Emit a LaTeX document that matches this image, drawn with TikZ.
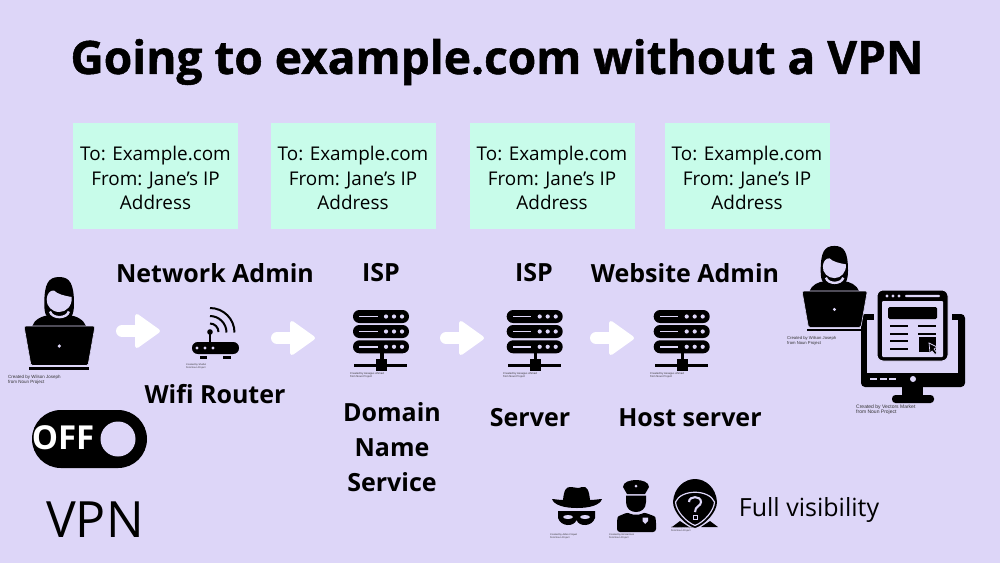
\documentclass[tikz,border=0pt]{standalone}
\usepackage{fontspec}
\setmainfont{Open Sans}
\setsansfont{Liberation Sans}
\newfontfamily\heavyfont[BoldFeatures={FakeBold=1.1}]{Open Sans}
\usepackage{tikz}
\usetikzlibrary{calc}
\definecolor{backlilac}{RGB}{221,214,248}
\definecolor{boxmint}{RGB}{200,252,234}
\newcommand{\WhiteArrow}[2]{
\begin{scope}[shift={(#1,#2)}]
\draw[white,line width=12pt,line cap=round] (6,0)--(24,0);
\draw[white,fill=white,line width=4pt,line join=round] (21,-15)--(42,0)--(21,15)--cycle;
\end{scope}
}
\newcommand{\ServerRow}[1]{
\fill[black,rounded corners=6.4pt] (0,#1) rectangle (56,#1+13);
\fill[backlilac] (6,#1+5.8) rectangle (24.5,#1+7.2);
\fill[backlilac] (33,#1+6.5) circle (2.1pt);
\fill[backlilac] (41,#1+6.5) circle (2.1pt);
\fill[backlilac] (49,#1+6.5) circle (2.1pt);
}
\newcommand{\ServerIcon}[2]{
\begin{scope}[shift={(#1,#2)}]
\ServerRow{0}
\ServerRow{15}
\ServerRow{30.3}
\fill[black] (27,43) rectangle (30.5,50);
\fill[black] (23,49) rectangle (34.3,61);
\fill[black] (1.3,53.7) rectangle (54.3,57);
\end{scope}
}
\newcommand{\PersonLaptop}[3]{
\begin{scope}[shift={(#1,#2)},scale=#3]
\fill[black] (20.3,-22) .. controls (20.3,-42) and (24,-49) .. (35.3,-49) .. controls (46,-49) and (50,-42) .. (50,-22) .. controls (50,-16) and (49,-12) .. (47.7,-10) -- (22.7,-10) .. controls (21,-12) and (20.3,-16) .. (20.3,-22) -- cycle;
\fill[black] (8.3,0) .. controls (10,-6) and (18,-10.7) .. (26,-10.7) -- (44.3,-10.7) .. controls (52,-10.7) and (60,-6) .. (62,0) -- cycle;
\fill[backlilac] (22.7,-27) .. controls (23,-32) and (26,-36) .. (30,-35.5) .. controls (33,-32) and (41,-30) .. (47.7,-29) .. controls (48.5,-20) and (42,-14) .. (35.3,-14) .. controls (28,-14) and (22,-20) .. (22.7,-27) -- cycle;
\draw[backlilac,line width=2.4pt] (26,-14.5) .. controls (28,-7) and (43,-7) .. (44.8,-14.5);
\filldraw[fill=black,draw=backlilac,line width=0.6pt,rounded corners=1.5pt] (0,0)--(71,0)--(64,39.5)--(7,39.5)--cycle;
\fill[backlilac] (35.3,20) circle (1.8pt);
\fill[black] (5.3,41.2) rectangle (65,43.6);
\end{scope}
}
\begin{document}
\begin{tikzpicture}[
x=1pt,y=-1pt,
MailBox/.style={fill=boxmint,draw=none,minimum width=165pt,minimum height=106pt,inner sep=0pt},
MailText/.style={inner sep=0pt,yshift=-2pt,align=center,font=\fontsize{18.9}{24.6}\selectfont},
RoleLabel/.style={font=\fontsize{25}{35}\selectfont\bfseries,align=center,inner sep=0pt},
Credit/.style 2 args={font=\sffamily\fontsize{#1}{#2}\selectfont,align=left,anchor=west,inner sep=0pt,black!80}
]
\useasboundingbox (0,0) rectangle (1000,563);
\fill[backlilac] (0,0) rectangle (1000,563);

\node[font=\fontsize{46}{50}\selectfont\heavyfont\bfseries,inner sep=0pt] (title) at (497,62) {Going to example.com without a VPN};

\node[MailBox] (mailA) at (155.5,176) {};
\node[MailBox] (mailB) at (353,176) {};
\node[MailBox] (mailC) at (552,176) {};
\node[MailBox] (mailD) at (747,176) {};
\node[MailText] (textA) at (mailA) {To: Example.com\\From: Jane's IP\\Address};
\node[MailText] (textB) at (mailB) {To: Example.com\\From: Jane's IP\\Address};
\node[MailText] (textC) at (mailC) {To: Example.com\\From: Jane's IP\\Address};
\node[MailText] (textD) at (mailD) {To: Example.com\\From: Jane's IP\\Address};

\node[RoleLabel] (roleA) at (215,273) {Network Admin};
\node[RoleLabel] (roleB) at (381,273) {ISP};
\node[RoleLabel] (roleC) at (534,273) {ISP};
\node[RoleLabel] (roleD) at (685,273) {Website Admin};

\node[RoleLabel] (deviceA) at (215,394) {Wifi Router};
\node[RoleLabel] (deviceB) at (392,447) {Domain\\Name\\Service};
\node[RoleLabel] (deviceC) at (530,418) {Server};
\node[RoleLabel] (deviceD) at (690,418) {Host server};

% sender
\PersonLaptop{24}{326}{1}
\node[Credit={4.5}{5}] (creditA) at (8,379.5) {Created by Wilson Joseph\\from Noun Project};

\WhiteArrow{116}{331}
\WhiteArrow{271}{338}
\WhiteArrow{440}{338}
\WhiteArrow{590}{338}

% router
\draw[black,line width=2pt] (210,308) arc (90:0:24.5 and -24.5);
\draw[black,line width=2pt] (210,316) arc (90:0:16.5 and -16.5);
\draw[black,line width=2pt] (210,323.5) arc (90:0:8.5 and -8.5);
\fill[black] (210,332) circle (2.8pt);
\fill[black] (209.2,332) rectangle (210.8,343);
\fill[black,rounded corners=5.8pt] (192,342) rectangle (239,354);
\fill[backlilac] (197,348) circle (1.7pt);
\fill[backlilac] (205,348) circle (1.7pt);
\fill[backlilac] (213,348) circle (1.7pt);
\fill[black] (200,356) rectangle (207,359);
\fill[black] (223,356) rectangle (231,359);
\node[Credit={2.4}{2.9}] (creditB) at (186,366) {Created by Shafiul\\from Noun Project};

\ServerIcon{353}{310}
\ServerIcon{506.7}{310}
\ServerIcon{653.7}{310}
\node[Credit={2.7}{3.2}] (creditC) at (350,375.5) {Created by Assagus Ahmad\\from Noun Project};
\node[Credit={2.7}{3.2}] (creditD) at (503,375.5) {Created by Assagus Ahmad\\from Noun Project};
\node[Credit={2.7}{3.2}] (creditE) at (650,375.5) {Created by Assagus Ahmad\\from Noun Project};

% website monitor
\fill[black,rounded corners=4pt] (861,314) rectangle (965,387);
\fill[backlilac] (867,320) rectangle (958,372.7);
\fill[backlilac] (874,312) rectangle (952,321);
\fill[black] (902,386) rectangle (923,396);
\fill[black,rounded corners=3.5pt] (892,395) rectangle (934,403);
\fill[backlilac] (870,378) rectangle (877,380);
\fill[backlilac] (880,378) rectangle (887,380);
\fill[backlilac] (889,378) rectangle (896,380);
\fill[backlilac] (913,379) circle (3pt);
\filldraw[fill=black,draw=backlilac,line width=1pt,rounded corners=6pt] (877,290) rectangle (948,361);
\fill[backlilac,rounded corners=1pt] (882,301) rectangle (943,357);
\fill[backlilac] (887,296) circle (1.7pt);
\fill[backlilac] (893,296) circle (1.7pt);
\fill[backlilac] (899,296) circle (1.7pt);
\fill[backlilac,rounded corners=1pt] (905,294.8) rectangle (940,297.2);
\fill[black,rounded corners=1.5pt] (888,307) rectangle (937,319);
\fill[black] (890,325) rectangle (908,327);
\fill[black] (890,332.5) rectangle (908,334.5);
\fill[black] (890,340) rectangle (908,342);
\fill[black] (890,348) rectangle (908,350);
\fill[black] (918,325) rectangle (936,327);
\fill[black] (918,332.5) rectangle (936,334.5);
\fill[black] (919,337) rectangle (936,352);
\filldraw[fill=black,draw=backlilac,line width=0.7pt] (929,343)--(937,347)--(934,349)--(937,353)--(935,354.5)--(932,351)--(930,353)--cycle;
\node[Credit={5}{5.6}] (creditF) at (856,409.5) {Created by Vectors Market\\from Noun Project};

\PersonLaptop{802}{291}{0.92}
\node[Credit={4.2}{4.6}] (creditG) at (787,341) {Created by Wilson Joseph\\from Noun Project};

% vpn switch
\fill[black,rounded corners=28.9pt] (32,410) rectangle (147,468);
\fill[backlilac] (118,439) circle (17.5pt);
\node[font=\fontsize{33}{36}\selectfont\bfseries,text=white,inner sep=0pt] (switch) at (63,438) {OFF};
\node[font=\fontsize{50}{54}\selectfont,inner sep=0pt] (vpn) at (95,520) {VPN};

% spy
\fill[black] (563,500) .. controls (564,490) and (566,487) .. (570,487) .. controls (575,487) and (578,489) .. (582,487) .. controls (587,486) and (589,490) .. (590,500) .. controls (594,500) and (600,499) .. (602,499) .. controls (600,505) and (590,508) .. (577,508) .. controls (564,508) and (554,505) .. (552,499) .. controls (554,499) and (559,500) .. (563,500) -- cycle;
\fill[black] (558,511)--(595,511)--(595,518) .. controls (592,527) and (579,527) .. (576.5,520) .. controls (574,527) and (561,527) .. (558,518) -- cycle;
\fill[backlilac] (568,517) ellipse (5pt and 2pt);
\fill[backlilac] (585,517) ellipse (5pt and 2pt);
\node[Credit={2.4}{2.9}] (creditH) at (550,536.5) {Created by Aiden Criquet\\from Noun Project};

% officer
\fill[black] (623,487) .. controls (623,482) and (630,480) .. (636,480) .. controls (642,480) and (649,482) .. (649,487) -- (645,494) -- (627,494) -- cycle;
\fill[backlilac] (636,486) circle (1.5pt);
\fill[black] (626,495.5) -- (646,495.5) -- (646,502) .. controls (646,509) and (641,512) .. (636,512) .. controls (631,512) and (626,509) .. (626,502) -- cycle;
\fill[black,rounded corners=3pt] (617,532) -- (617,520) .. controls (618,516) and (624,514) .. (628,512) .. controls (632,515) and (640,515) .. (644,512) .. controls (648,514) and (655,516) .. (656,520) -- (656,532) -- cycle;
\fill[backlilac] (642.5,517.5) -- (648,517.5) -- (648,521) -- (645.2,524) -- (642.5,521) -- cycle;
\node[Credit={2.4}{2.9}] (creditI) at (609,536.5) {Created by Ed Harrison\\from Noun Project};

% hooded figure
\fill[black] (672,527) -- (680,521) -- (689,527) -- cycle;
\fill[black] (701,527) -- (710,521) -- (718,527) -- cycle;
\fill[black] (673,502) .. controls (674,487) and (685,479) .. (695,479) .. controls (705,479) and (716,487) .. (717,502) .. controls (717,512) and (705,525) .. (695,528) .. controls (685,525) and (673,512) .. (673,502) -- cycle;
\draw[backlilac,line width=1.2pt] (675.5,502) .. controls (681,489) and (709,489) .. (714.5,502) .. controls (714,511) and (704,522) .. (695,525.5) .. controls (686,522) and (676,511) .. (675.5,502) -- cycle;
\draw[backlilac,line width=2.1pt] (689,502) .. controls (689,495.5) and (701,495.5) .. (701,502) .. controls (701,506.5) and (695,505.5) .. (695,512);
\draw[backlilac,line width=0.9pt] (693,515) rectangle (697,519.5);
\node[Credit={2.4}{2.9}] (creditJ) at (671,529) {Created by Anonymous\\from Noun Project};

\node[font=\fontsize{25}{30}\selectfont,inner sep=0pt] (visibility) at (809,510) {Full visibility};

\end{tikzpicture}
\end{document}
